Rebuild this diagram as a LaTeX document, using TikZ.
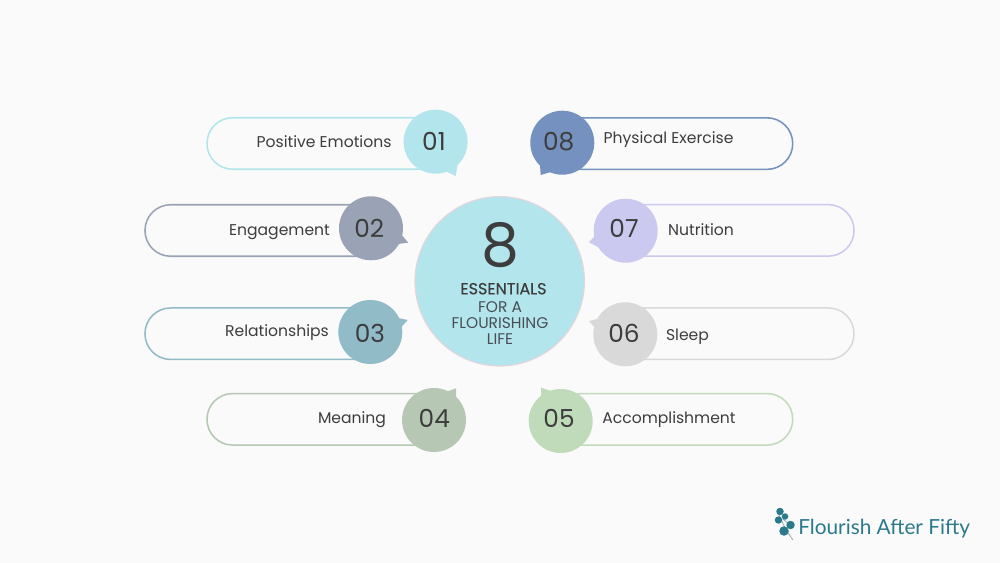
\documentclass[tikz,border=0pt]{standalone}
\usepackage{fontspec}
\setmainfont{Poppins}
\newfontfamily\logofont{Lato}
\definecolor{bgc}{HTML}{FAFAFA}
\definecolor{ink}{HTML}{3D3D3D}
\definecolor{inkb}{HTML}{4A4F55}
\definecolor{ca}{HTML}{B2E5EC}
\definecolor{cb}{HTML}{9AA3B5}
\definecolor{cc}{HTML}{91BBC6}
\definecolor{cd}{HTML}{B6C8B4}
\definecolor{ce}{HTML}{C0DBBA}
\definecolor{cf}{HTML}{D9D9D9}
\definecolor{cg}{HTML}{CBC9F0}
\definecolor{ch}{HTML}{7491BF}
\definecolor{rim}{HTML}{E8D5DC}
\definecolor{teal}{HTML}{2B7A8C}
\tikzset{
  pill/.style={draw=#1,line width=1.15pt,rectangle,rounded corners=25.6*0.75pt,minimum height=51.5*0.75pt,inner sep=0pt,fill=bgc},
  disc/.style={circle,fill=#1,minimum size=64*0.75pt,inner sep=0pt},
  numtxt/.style={anchor=base,inner sep=0pt,text=ink,font=\fontsize{18.6}{22}\selectfont},
  labtxt/.style={anchor=base,inner sep=0pt,text=ink,font=\fontsize{11.7}{14}\selectfont},
  captxt/.style={anchor=base,inner sep=0pt,text=inkb,font=\fontsize{11.6}{14}\selectfont},
  leaf/.style={circle,fill=teal,inner sep=0pt}
}
\begin{document}
\begin{tikzpicture}[x=0.75pt,y=-0.75pt]
\useasboundingbox[fill=bgc] (0,0) rectangle (1000,563);
% pills
\node[pill=ca,minimum width=236*0.75pt] (p1) at (325,143.5) {};
\node[pill=cb,minimum width=236*0.75pt] (p2) at (263,230.5) {};
\node[pill=cc,minimum width=236*0.75pt] (p3) at (263,333.7) {};
\node[pill=cd,minimum width=236*0.75pt] (p4) at (325,419.3) {};
\node[pill=ce,minimum width=236*0.75pt] (p5) at (674.7,419.3) {};
\node[pill=cf,minimum width=236*0.75pt] (p6) at (736,333.7) {};
\node[pill=cg,minimum width=236*0.75pt] (p7) at (736,230.4) {};
\node[pill=ch,minimum width=236*0.75pt] (p8) at (674.7,143.6) {};
% tails
\fill[ca] (446.7,171.7) -- (455.7,176) -- (458,162) -- cycle;
\fill[cb] (398,244) -- (408.3,242.7) -- (401.7,235) -- (395,232) -- cycle;
\fill[cc] (398,318) -- (407.7,320) -- (401.7,326.7) -- (395,330) -- cycle;
\fill[cd] (446.7,391.7) -- (456,388.3) -- (456,400) -- (445,405) -- cycle;
\fill[ce] (550.7,391) -- (541,387.7) -- (541,399) -- (552,405) -- cycle;
\fill[cf] (597.3,319) -- (589,321) -- (595,328) -- (602,332) -- cycle;
\fill[cg] (594,236.7) -- (589,242.3) -- (598.3,247.3) -- (605,240) -- cycle;
\fill[ch] (540,165) -- (540.7,175) -- (551.7,171.7) -- (555,160) -- cycle;
% discs
\node[disc=ca] (d1) at (435.6,141.7) {};
\node[disc=cb] (d2) at (371,228.3) {};
\node[disc=cc] (d3) at (370.3,332) {};
\node[disc=cd] (d4) at (434,420) {};
\node[disc=ce] (d5) at (560.7,421) {};
\node[disc=cf] (d6) at (625.3,334.3) {};
\node[disc=cg] (d7) at (625.7,230.7) {};
\node[disc=ch] (d8) at (562.3,142.7) {};
% numbers
\node[numtxt] (n1) at (434,151) {01};
\node[numtxt] (n2) at (369.3,238) {02};
\node[numtxt] (n3) at (370,342) {03};
\node[numtxt] (n4) at (434.3,427) {04};
\node[numtxt] (n5) at (559,427) {05};
\node[numtxt] (n6) at (624,342) {06};
\node[numtxt] (n7) at (624,238) {07};
\node[numtxt] (n8) at (558.7,151) {08};
% labels
\node[labtxt] (l1) at (324,147.2) {Positive Emotions};
\node[labtxt] (l2) at (279.5,235) {Engagement};
\node[labtxt] (l3) at (277,336.2) {Relationships};
\node[labtxt] (l4) at (352,423.3) {Meaning};
\node[labtxt] (l5) at (669,423.3) {Accomplishment};
\node[labtxt] (l6) at (687.5,340) {Sleep};
\node[labtxt] (l7) at (701,235) {Nutrition};
\node[labtxt] (l8) at (668.5,143.2) {Physical Exercise};
% centre
\node[circle,fill=ca,draw=rim,line width=0.8pt,minimum size=169.5*0.75pt,inner sep=0pt] (hub) at (499.7,281.3) {};
\node[anchor=base,inner sep=0pt,text height=31pt,text depth=0pt,text=ink,font=\fontsize{45}{50}\selectfont] (eight) at (500,266.7) {8};
\node[captxt,text=ink,text height=9pt,text depth=0pt,font=\fontsize{12}{14}\selectfont\addfontfeature{FakeBold=0.3}] (c1) at (503.5,294.3) {ESSENTIALS};
\node[captxt] (c2) at (500,312) {FOR A};
\node[captxt] (c3) at (500,328.7) {FLOURISHING};
\node[captxt] (c4) at (500,344.3) {LIFE};
% logo
\draw[color=gray!70,line width=0.6pt] (777,510) .. controls (783,525) and (787,532) .. (793,540);
\draw[color=teal!70,line width=0.5pt] (783,519) -- (790,525);
\node[leaf,minimum size=7.5*0.75pt] (f1) at (780,511.5) {};
\node[leaf,minimum size=6.5*0.75pt] (f2) at (785,516.5) {};
\node[leaf,minimum size=7.5*0.75pt] (f3) at (778.5,520) {};
\node[leaf,minimum size=8.5*0.75pt] (f4) at (790.5,525) {};
\node[leaf,minimum size=9.5*0.75pt] (f5) at (784,531) {};
\node[anchor=base west,inner sep=0pt,text=teal,font=\logofont\fontsize{15.6}{18}\selectfont] (logo) at (798,534) {Flourish After Fifty};
\end{tikzpicture}
\end{document}
